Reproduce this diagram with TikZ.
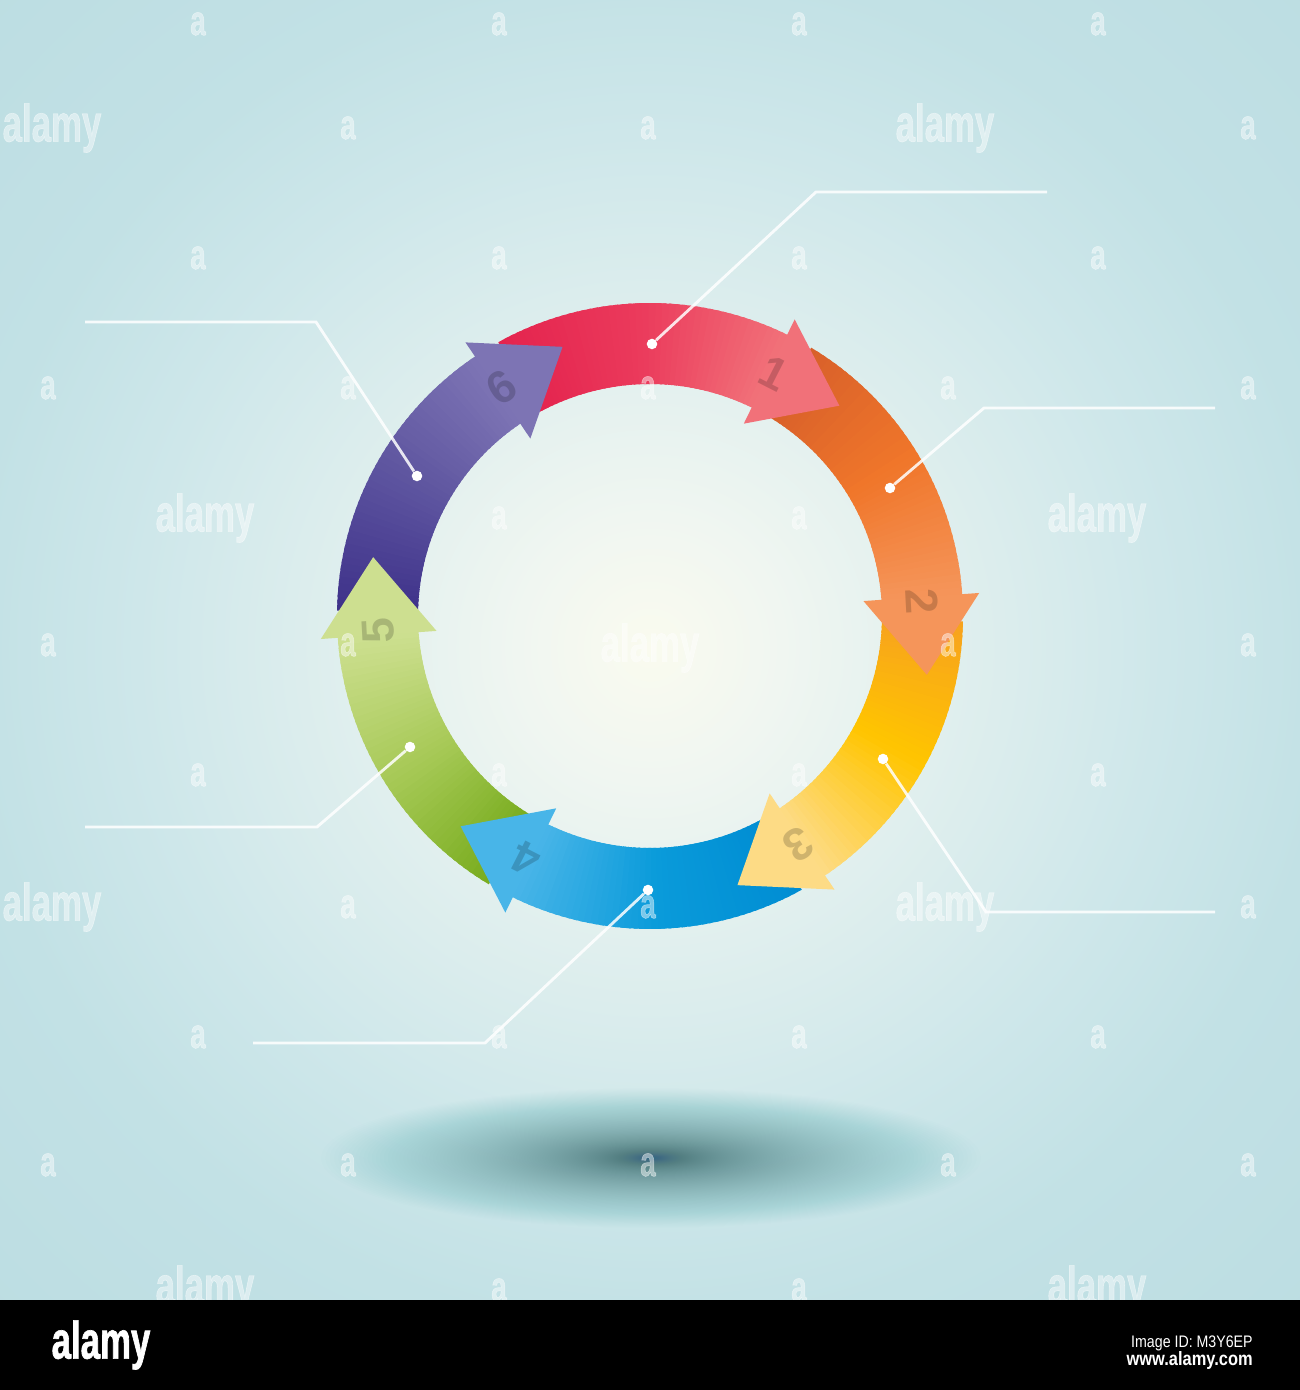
\documentclass[tikz,border=0pt]{standalone}
\usepackage{fontspec}
\setmainfont{Liberation Sans}
\newfontfamily\wmfont{Liberation Sans}[FakeStretch=0.66,FakeBold=1.2]
\newfontfamily\barfont{Liberation Sans}[FakeStretch=0.85]
\definecolor{bg0}{HTML}{FAFBEF}
\definecolor{bg1}{HTML}{F0F6F1}
\definecolor{bg2}{HTML}{E0EFEE}
\definecolor{bg3}{HTML}{CEE7EA}
\definecolor{bg4}{HTML}{C2E1E5}
\definecolor{bg5}{HTML}{BCDDE2}
\definecolor{shadowc}{HTML}{2A6A82}
\definecolor{cR1}{HTML}{E4234E}
\definecolor{cR2}{HTML}{EB3B5C}
\definecolor{cR3}{HTML}{F17179}
\definecolor{cO1}{HTML}{D8602A}
\definecolor{cO2}{HTML}{F0762A}
\definecolor{cO3}{HTML}{F5955A}
\definecolor{cY1}{HTML}{F7A21E}
\definecolor{cY2}{HTML}{FFC500}
\definecolor{cY3}{HTML}{FDDB85}
\definecolor{cB1}{HTML}{008DD3}
\definecolor{cB2}{HTML}{0A9BDA}
\definecolor{cB3}{HTML}{48B5E8}
\definecolor{cG1}{HTML}{78AC1E}
\definecolor{cG2}{HTML}{A8CA58}
\definecolor{cG3}{HTML}{CDDF90}
\definecolor{cP1}{HTML}{3E318A}
\definecolor{cP2}{HTML}{5D549F}
\definecolor{cP3}{HTML}{7D74B4}
\pgfdeclareradialshading{bgshade}{\pgfpoint{0bp}{0bp}}{color(0bp)=(bg0); color(3.5bp)=(bg1); color(8bp)=(bg2); color(13.5bp)=(bg3); color(18bp)=(bg4); color(25bp)=(bg5); color(50bp)=(bg5)}
\tikzset{
  wmA/.style={font=\wmfont\bfseries\fontsize{24}{24}\selectfont, text=white, text opacity=0.45, inner sep=0pt},
  wmW/.style={font=\wmfont\bfseries\fontsize{30}{30}\selectfont, text=white, text opacity=0.45, inner sep=0pt},
  callout/.style={draw=white, draw opacity=0.85, line width=1.6pt},
  dot/.style={circle, fill=white, inner sep=0pt, minimum size=6pt},
  num/.style={font=\bfseries\fontsize{26}{26}\selectfont, text=black, text opacity=0.18, inner sep=0pt},
  bartext/.style={text=white, anchor=east, inner sep=0pt}
}
\begin{document}
\begin{tikzpicture}[x=0.02cm,y=0.02cm]
\useasboundingbox (0,0) rectangle (1300,1390);
% background
\fill[bg5] (0,90) rectangle (1300,1390);
\begin{scope}
  \clip (0,90) rectangle (1300,1390);
  \shade[shading=bgshade] (650,742) circle[radius=19cm];
\end{scope}
% shadow: many soft layers, denser toward the centre
\foreach \i in {1,...,150}{
  \pgfmathsetmacro\ff{(\i/150)^2}
  \fill[shadowc, fill opacity=0.008] (651,232) ellipse[x radius={6.6cm*\ff}, y radius={1.4cm*\ff}];
}
% ring bodies
\begin{scope}[shift={(650,774)}]
\foreach \t/\ca/\cb/\cc in {48/cR1/cR2/cR3, -12/cO1/cO2/cO3, -72/cY1/cY2/cY3, -132/cB1/cB2/cB3, 168/cG1/cG2/cG3, 108/cP1/cP2/cP3}{
  \foreach \i in {0,...,43}{
    \pgfmathsetmacro\aa{\t+71-1.25*\i}
    \pgfmathsetmacro\ab{\aa-1.9}
    \pgfmathtruncatemacro\p{round(200*(\i+0.5)/44)}
    \ifnum\p<100 \def\col{\cb!\p!\ca}\else\pgfmathtruncatemacro\q{\p-100}\def\col{\cc!\q!\cb}\fi
    \fill[color=\col] (\aa:313) -- (\ab:313) -- (\ab:232) -- (\aa:232) -- cycle;
  }
}
% arrow heads
\foreach \t/\cc in {48/cR3, -12/cO3, -72/cY3, -132/cB3, 168/cG3, 108/cP3}{
  \fill[\cc] (\t+16:330) -- (\t:283) -- (\t+16:214) -- cycle;
}
% numbers
\foreach \k/\t in {1/48, 2/-12, 3/-72, 4/-132, 5/168, 6/108}{
  \node[num, rotate=\t-75] (n\k) at (\t+15:272) {\k};
}
\end{scope}
% callouts
\node[dot] (d1) at (652,1046) {};
\node[dot] (d2) at (890,902) {};
\node[dot] (d3) at (883,631) {};
\node[dot] (d4) at (648,500) {};
\node[dot] (d5) at (410,643) {};
\node[dot] (d6) at (417,914) {};
\coordinate (k1) at (816,1198); \coordinate (e1) at (1047,1198);
\coordinate (k2) at (984,982);  \coordinate (e2) at (1215,982);
\coordinate (k3) at (986,478);  \coordinate (e3) at (1215,478);
\coordinate (k4) at (485,347);  \coordinate (e4) at (253,347);
\coordinate (k5) at (317,563);  \coordinate (e5) at (85,563);
\coordinate (k6) at (316,1068); \coordinate (e6) at (85,1068);
\foreach \j in {1,...,6}{
  \draw[callout] (d\j) -- (k\j) -- (e\j);
}
% watermarks
\foreach \yy/\r in {1366/0, 1132/2, 615/6, 353/8}{
  \foreach \xx in {198,499,799,1098}{
    \node[wmA] (wa-\r-\xx) at (\xx,\yy) {a};
  }
}
\foreach \yy/\r in {872/4, 100/10}{
  \node[wmW] (ww-\r-l) at (205,\yy) {alamy};
  \node[wmA] (wa-\r-499) at (499,\yy) {a};
  \node[wmA] (wa-\r-799) at (799,\yy) {a};
  \node[wmW] (ww-\r-r) at (1097,\yy) {alamy};
}
\foreach \yy/\r in {1002/3, 225/9}{
  \foreach \xx in {48,348,648,948,1248}{
    \node[wmA] (wa-\r-\xx) at (\xx,\yy) {a};
  }
}
\foreach \yy/\r in {1262/1, 483/7}{
  \node[wmW] (ww-\r-l) at (52,\yy) {alamy};
  \node[wmA] (wa-\r-348) at (348,\yy) {a};
  \node[wmA] (wa-\r-648) at (648,\yy) {a};
  \node[wmW] (ww-\r-r) at (945,\yy) {alamy};
  \node[wmA] (wa-\r-1248) at (1248,\yy) {a};
}
\foreach \xx in {48,348,948,1248}{
  \node[wmA] (wa-5-\xx) at (\xx,745) {a};
}
\node[wmW] (ww-5-c) at (650,742) {alamy};
% bottom bar
\fill[black] (0,0) rectangle (1300,90);
\node[font=\wmfont\bfseries\fontsize{30}{30}\selectfont, text=white, inner sep=0pt] (logo) at (101,45) {alamy};
\node[bartext, font=\barfont\fontsize{9.5}{9.5}\selectfont] (imgid) at (1253,47) {Image ID: M3Y6EP};
\node[bartext, font=\barfont\bfseries\fontsize{11}{11}\selectfont] (www) at (1253,29) {www.alamy.com};
\end{tikzpicture}
\end{document}
